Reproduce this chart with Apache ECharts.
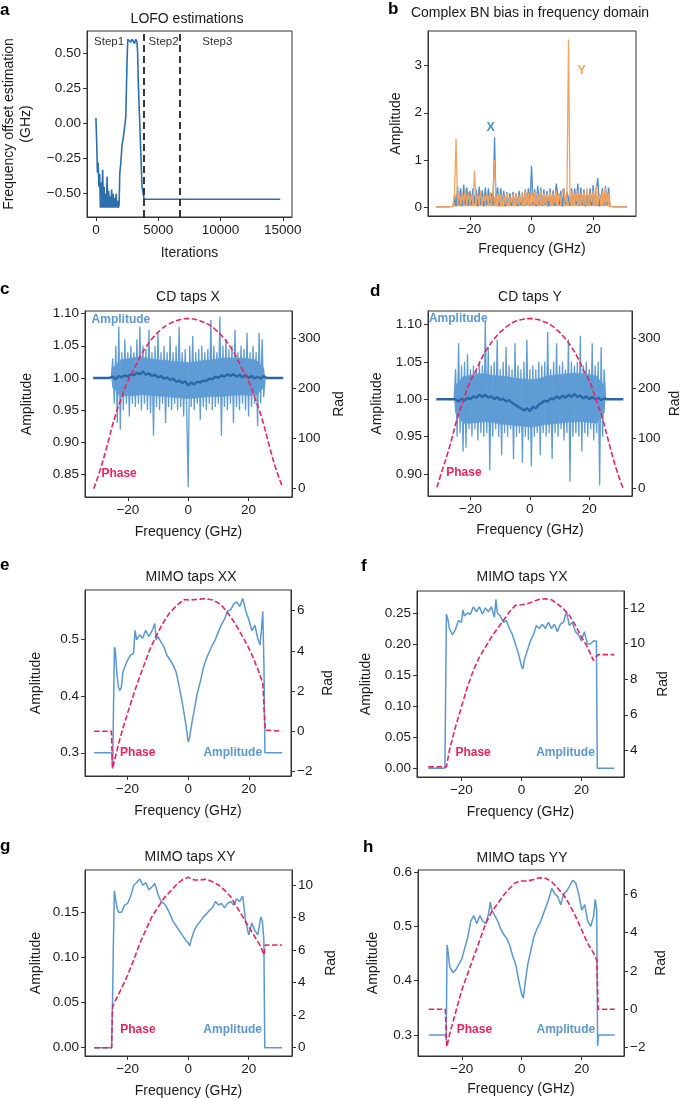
<!doctype html>
<html lang="en">
<head>
<meta charset="UTF-8" />
<title>Figure</title>
<script src="https://cdn.jsdelivr.net/npm/echarts/dist/echarts.min.js"></script>
<style>
  body { margin: 0; padding: 0; background: #fff; }
  #main { width: 685px; height: 1099px; }
</style>
</head>
<body>
<div id="main"></div>
<script>
// ---- panel a: LOFO estimations ----
const lofoIter = [0, 60, 120, 180, 240, 300, 360, 420, 480, 540, 600, 660, 720, 780, 840, 900, 960, 1020, 1080, 1140,
  1200, 1260, 1320, 1380, 1440, 1500, 1560, 1620, 1680, 1740, 1800, 1860, 1920, 2000, 2100, 2200, 2300, 2400, 2450, 2500,
  2560, 2700, 2800, 2900, 3000, 3100, 3200, 3300, 3350, 3400, 3500, 3600, 3700, 3800, 3870, 14800];
const lofoValue = [0.04, -0.12, -0.35, -0.28, -0.45, -0.36, -0.6, -0.42, -0.6, -0.33, -0.6, -0.45, -0.6, -0.5, -0.6, -0.38, -0.6, -0.48, -0.6, -0.52,
  -0.6, -0.47, -0.6, -0.5, -0.6, -0.53, -0.6, -0.5, -0.6, -0.55, -0.6, -0.58, -0.35, -0.28, -0.15, -0.1, -0.03, 0.05, 0.25, 0.45,
  0.6, 0.6, 0.58, 0.6, 0.6, 0.57, 0.6, 0.58, 0.5, 0.3, 0.05, -0.2, -0.45, -0.5, -0.54, -0.54];
const stepBounds = [3870, 6730];
const stepNames = ['Step1', 'Step2', 'Step3'];
const stepCenters = [1060, 5430, 9750];

// ---- shared frequency grid for the noisy traces (GHz) ----
const noiseFreq = [-31, -29, -27,
  -25.5, -25, -24.5, -24, -23.5, -23, -22.5, -22, -21.5, -21, -20.5, -20,
  -19.5, -19, -18.5, -18, -17.5, -17, -16.5, -16, -15.5, -15, -14.5, -14,
  -13.5, -13, -12.5, -12, -11.5, -11, -10.5, -10, -9.5, -9, -8.5, -8,
  -7.5, -7, -6.5, -6, -5.5, -5, -4.5, -4, -3.5, -3, -2.5, -2,
  -1.5, -1, -0.5, 0, 0.5, 1, 1.5, 2, 2.5, 3, 3.5, 4,
  4.5, 5, 5.5, 6, 6.5, 7, 7.5, 8, 8.5, 9, 9.5, 10,
  10.5, 11, 11.5, 12, 12.5, 13, 13.5, 14, 14.5, 15, 15.5, 16,
  16.5, 17, 17.5, 18, 18.5, 19, 19.5, 20, 20.5, 21, 21.5, 22,
  22.5, 23, 23.5, 24, 24.5, 25, 25.5,
  27, 29, 31];

// coarse grid for the dense core of the noisy traces
const bandFreq = [-25.4, -25, -22.5, -20, -17.5, -15, -12.5, -10, -7.5, -5, -2.5, 0,
  2.5, 5, 7.5, 10, 12.5, 15, 17.5, 20, 22.5, 25, 25.4];

// ---- panel b: complex BN bias ----
const biasX = [0.01, 0.012, 0.01,
  0.02, 0.2, 0.02, 0.45, 0.05, 0.4, 0.02, 0.48, 0.06, 0.42, 0.03, 0.35,
  0.05, 0.4, 0.08, 0.38, 0.02, 0.44, 0.06, 0.36, 0.02, 0.42, 0.05, 0.4,
  0.08, 0.3, 0.05, 1.48, 0.05, 0.42, 0.03, 0.4, 0.06, 0.35, 0.02, 0.32,
  0.05, 0.3, 0.03, 0.33, 0.06, 0.3, 0.02, 0.35, 0.05, 0.3, 0.04, 0.38,
  0.06, 0.4, 0.03, 0.88, 0.05, 0.38, 0.02, 0.45, 0.06, 0.42, 0.03, 0.38,
  0.05, 0.35, 0.02, 0.4, 0.06, 0.36, 0.03, 0.5, 0.48, 0.05, 0.35, 0.02,
  0.4, 0.06, 0.33, 0.3, 0.03, 0.4, 0.05, 0.4, 0.06, 0.5, 0.04, 0.42,
  0.05, 0.38, 0.02, 0.35, 0.06, 0.4, 0.03, 0.47, 0.05, 0.38, 0.62, 0.02,
  0.04, 0.4, 0.05, 0.45, 0.06, 0.42, 0.02,
  0.01, 0.012, 0.01];
const biasY = [0.01, 0.015, 0.01,
  0.02, 0.3, 1.45, 0.05, 0.35, 0.05, 0.3, 0.08, 0.38, 0.04, 0.32, 0.1,
  0.28, 0.05, 0.77, 0.06, 0.3, 0.08, 0.35, 0.04, 0.28, 0.1, 0.3, 0.05,
  0.32, 0.08, 0.3, 1.0, 0.05, 0.3, 0.1, 0.28, 0.03, 0.25, 0.08, 0.3,
  0.05, 0.22, 0.1, 0.28, 0.04, 0.3, 0.07, 0.25, 0.1, 0.33, 0.05, 0.35,
  0.08, 0.3, 0.04, 0.38, 0.1, 0.32, 0.06, 0.3, 0.1, 0.36, 0.05, 0.3,
  0.08, 0.28, 0.12, 0.33, 0.06, 0.3, 0.1, 0.35, 0.05, 0.3, 0.1, 0.38,
  0.32, 0.1, 0.3, 3.55, 0.08, 0.35, 0.05, 0.3, 0.12, 0.36, 0.06, 0.3,
  0.1, 0.33, 0.05, 0.4, 0.08, 0.3, 0.12, 0.35, 0.06, 0.45, 0.1, 0.3,
  0.05, 0.35, 0.08, 0.42, 0.1, 0.3, 0.02,
  0.01, 0.015, 0.01];
const biasYCoreLow = [0.01, 0.03, 0.03, 0.03, 0.03, 0.03, 0.03, 0.02, 0.03, 0.03, 0.03, 0.03,
  0.03, 0.03, 0.03, 0.03, 0.03, 0.03, 0.03, 0.03, 0.03, 0.03, 0.01];
const biasYCoreHigh = [0.01, 0.26, 0.25, 0.23, 0.22, 0.2, 0.22, 0.2, 0.16, 0.17, 0.2, 0.2,
  0.22, 0.22, 0.2, 0.22, 0.23, 0.22, 0.24, 0.25, 0.24, 0.25, 0.01];

// ---- panels c, d: CD taps amplitude (raw) ----
const cdRawX = [1.0, 1.0, 1.0,
  1.0, 1.03, 0.96, 1.05, 0.93, 1.08, 0.92, 1.04, 0.95, 1.06, 0.96, 1.04,
  0.94, 1.05, 0.96, 1.04, 0.955, 1.06, 0.96, 1.08, 0.95, 1.05, 0.96, 1.045,
  0.95, 1.075, 0.945, 1.04, 0.91, 1.05, 0.955, 1.07, 0.95, 1.04, 0.96, 1.05,
  0.93, 1.04, 0.955, 1.065, 0.95, 1.04, 0.96, 1.05, 0.95, 1.08, 0.955, 1.04,
  0.94, 1.045, 0.95, 0.83, 1.05, 0.955, 1.065, 0.95, 1.04, 0.96, 1.045, 0.935,
  1.05, 0.955, 1.04, 0.95, 1.045, 0.96, 1.09, 0.95, 1.05, 0.955, 1.04, 0.96,
  1.095, 0.91, 1.05, 0.955, 1.06, 0.95, 1.045, 0.96, 1.05, 0.93, 1.075, 0.955,
  1.04, 0.95, 1.05, 0.96, 1.045, 0.95, 1.07, 0.94, 1.04, 0.955, 1.05, 0.96,
  1.04, 0.925, 1.07, 0.96, 1.06, 0.97, 1.0,
  1.0, 1.0, 1.0];
const cdRawY = [1.0, 1.0, 1.0,
  1.0, 1.04, 0.95, 1.075, 0.955, 1.045, 0.93, 1.05, 0.935, 1.06, 0.96, 1.04,
  0.95, 1.045, 0.96, 1.04, 0.945, 1.05, 0.955, 1.045, 0.95, 1.105, 0.955, 1.07,
  0.905, 1.045, 0.95, 1.05, 0.96, 1.08, 0.95, 1.04, 0.925, 1.05, 0.955, 1.07,
  0.95, 1.045, 0.96, 1.04, 0.92, 1.075, 0.95, 1.045, 0.955, 1.04, 0.915, 1.05,
  0.95, 1.08, 0.945, 1.04, 0.91, 1.045, 0.95, 1.04, 0.955, 1.05, 0.925, 1.045,
  0.955, 1.05, 0.95, 1.09, 0.955, 1.04, 0.92, 1.05, 0.955, 1.075, 0.95, 1.045,
  0.96, 1.05, 0.945, 1.04, 0.955, 1.08, 0.89, 1.05, 0.95, 1.045, 0.955, 1.05,
  0.95, 1.085, 0.93, 1.045, 0.955, 1.05, 0.95, 1.04, 0.96, 1.075, 0.945, 1.045,
  0.955, 1.05, 0.885, 1.07, 0.95, 1.04, 1.0,
  1.0, 1.0, 1.0];
const cdCoreLowX = [1.0, 0.985, 0.972, 0.972, 0.973, 0.974, 0.973, 0.972, 0.971, 0.97, 0.969, 0.968,
  0.969, 0.97, 0.971, 0.971, 0.972, 0.973, 0.974, 0.973, 0.973, 0.985, 1.0];
const cdCoreHighX = [1.0, 1.015, 1.028, 1.03, 1.032, 1.032, 1.03, 1.028, 1.027, 1.026, 1.025, 1.024,
  1.025, 1.027, 1.028, 1.03, 1.031, 1.031, 1.031, 1.03, 1.028, 1.015, 1.0];
const cdCoreLowY = [1.0, 0.982, 0.968, 0.968, 0.969, 0.97, 0.969, 0.967, 0.966, 0.965, 0.964, 0.963,
  0.964, 0.966, 0.967, 0.968, 0.969, 0.97, 0.97, 0.969, 0.968, 0.982, 1.0];
const cdCoreHighY = [1.0, 1.018, 1.03, 1.032, 1.034, 1.034, 1.032, 1.031, 1.03, 1.028, 1.027, 1.026,
  1.027, 1.03, 1.032, 1.033, 1.034, 1.035, 1.034, 1.033, 1.031, 1.018, 1.0];

// ---- panels c, d: CD taps amplitude (averaged) ----
const avgFreq = [-31.5, -26,
  -25, -24, -23, -22, -21, -20, -19, -18, -17, -16,
  -15, -14, -13, -12, -11, -10, -9, -8, -7, -6,
  -5, -4, -3, -2, -1, 0, 1, 2, 3, 4,
  5, 6, 7, 8, 9, 10, 11, 12, 13, 14,
  15, 16, 17, 18, 19, 20, 21, 22, 23, 24,
  25, 26, 31.5];
const cdAvgX = [1.0, 1.0,
  1.002, 0.998, 1.003, 1.001, 1.004, 1.002, 1.006, 1.004, 1.008, 1.006,
  1.01, 1.005, 1.007, 1.003, 1.005, 1.001, 1.003, 0.999, 1.001, 0.997,
  0.999, 0.994, 0.996, 0.992, 0.995, 0.988, 0.993, 0.99, 0.994, 0.993,
  0.996, 0.995, 0.999, 0.998, 1.002, 1.0, 1.004, 1.002, 1.006, 1.003,
  1.006, 1.002, 1.005, 1.001, 1.004, 1.0, 1.003, 0.999, 1.002, 0.999,
  1.003, 1.0, 1.0];
const cdAvgY = [1.0, 1.0,
  1.0, 0.997, 1.001, 0.998, 1.002, 1.0, 1.004, 1.002, 1.006, 1.003,
  1.006, 1.002, 1.004, 1.0, 1.003, 0.999, 1.001, 0.997, 0.999, 0.995,
  0.993, 0.99, 0.988, 0.985, 0.988, 0.984, 0.99, 0.988, 0.993, 0.995,
  0.998, 0.997, 1.001, 1.0, 1.004, 1.001, 1.005, 1.002, 1.006, 1.003,
  1.007, 1.003, 1.005, 1.001, 1.004, 1.0, 1.003, 1.0, 1.002, 0.999,
  1.001, 1.0, 1.0];

// ---- panels c, d: CD taps phase (rad) ----
const cdPhaseX = [[-31.3, 0], [-29.2, 37], [-27, 83], [-24.3, 143], [-22, 183], [-20.4, 210], [-18, 238], [-16, 263],
  [-14, 283], [-11.5, 303], [-9, 318], [-7.1, 327], [-5, 333], [-2.7, 338], [0, 340], [2.7, 338], [5, 333], [7.1, 327],
  [9, 318], [11.5, 303], [14, 283], [16, 263], [18, 238], [20.4, 210], [22, 183], [24.3, 143], [27, 83], [29.2, 37], [31.3, 3]];
const cdPhaseY = [[-31.3, 2], [-30.2, 23], [-27, 84], [-24.3, 143], [-22, 183], [-20.4, 210], [-18, 238], [-16, 263],
  [-14, 283], [-11.5, 303], [-9, 318], [-7.1, 327], [-5, 334], [-2.7, 338], [0, 340], [2.7, 338], [5, 333], [7.1, 327],
  [9, 318], [11.5, 303], [14, 283], [16, 263], [18, 238], [20.4, 210], [22, 183], [24.3, 143], [27, 83], [29.2, 37], [31.4, 0]];

// ---- panels e-h: MIMO taps, [frequency, value] ----
const xxAmp = [[-31, 0.30], [-25.2, 0.30], [-24.9, 0.272], [-24.3, 0.486], [-24, 0.481], [-23.5, 0.44], [-23, 0.416],
  [-22.5, 0.41], [-22, 0.416], [-21.5, 0.443], [-21, 0.44], [-20, 0.463], [-19, 0.472], [-18, 0.475], [-17.5, 0.516],
  [-17, 0.499], [-16, 0.508], [-15, 0.502], [-14, 0.516], [-13, 0.505], [-12, 0.514], [-11, 0.528], [-10.5, 0.499],
  [-10, 0.505], [-9, 0.496], [-8, 0.487], [-7, 0.472], [-6, 0.464], [-5, 0.455], [-4, 0.443], [-3, 0.418], [-2, 0.39],
  [-1, 0.358], [-0.5, 0.34], [0, 0.319], [0.5, 0.328], [1, 0.345], [2, 0.375], [3, 0.405], [4, 0.425], [5, 0.45],
  [6, 0.466], [7, 0.478], [8, 0.49], [9, 0.5], [10, 0.514], [11, 0.526], [12, 0.536], [13, 0.55], [14, 0.552],
  [15, 0.562], [16, 0.566], [17, 0.558], [18, 0.572], [19, 0.55], [20, 0.535], [21, 0.515], [22, 0.525], [23, 0.5],
  [23.7, 0.49], [24.2, 0.52], [24.6, 0.549], [25, 0.45], [25.3, 0.30], [31, 0.30]];
const xxPhase = [[-31, 0], [-25.3, 0], [-24.9, -1.85], [-23.7, -1.1], [-22.6, -0.44], [-21, 0.4], [-19.3, 1.22],
  [-17.6, 2.0], [-16, 2.7], [-14.3, 3.4], [-12.7, 4.04], [-11, 4.6], [-9.5, 5.04], [-7.8, 5.5], [-6.2, 5.87],
  [-4.5, 6.15], [-2.9, 6.37], [-1.2, 6.56], [0.4, 6.53], [2.6, 6.56], [5.9, 6.6], [8.1, 6.53], [9.8, 6.4], [11.4, 6.2],
  [13, 5.9], [14.7, 5.54], [16.3, 5.15], [18, 4.7], [19.7, 4.22], [21.3, 3.71], [23.5, 2.88], [24.6, 2.38],
  [25.4, 0.05], [25.6, 0], [31, 0]];
const yxAmp = [[-31, 0], [-25.5, 0], [-25, 0.248], [-24.5, 0.24], [-24, 0.225], [-23, 0.215], [-22, 0.223], [-21, 0.238],
  [-20, 0.235], [-19.5, 0.255], [-19, 0.245], [-18, 0.25], [-17, 0.248], [-16, 0.26], [-15, 0.252], [-14, 0.26],
  [-13, 0.248], [-12, 0.258], [-11, 0.252], [-10, 0.26], [-9, 0.243], [-8.5, 0.272], [-8, 0.25], [-7, 0.245],
  [-6, 0.235], [-5, 0.238], [-4, 0.225], [-3, 0.215], [-2, 0.2], [-1, 0.185], [0, 0.165], [0.5, 0.16], [1, 0.175],
  [2, 0.19], [3, 0.205], [4, 0.215], [5, 0.23], [6, 0.225], [7, 0.232], [8, 0.225], [9, 0.235], [10, 0.225],
  [11, 0.232], [12, 0.22], [13, 0.232], [14, 0.235], [15, 0.252], [16, 0.23], [17, 0.235], [18, 0.22], [19, 0.215],
  [20, 0.205], [21, 0.22], [22, 0.2], [23, 0.2], [24, 0.205], [25, 0.205], [25.3, 0], [31, 0]];
const yxPhase = [[-31, 3.07], [-25, 3.07], [-24, 4.0], [-22, 5.3], [-20, 6.44], [-18, 7.56], [-16, 8.5], [-14, 9.25],
  [-12, 9.8], [-10, 10.37], [-8, 10.84], [-6, 11.3], [-4, 11.78], [-2, 12.15], [0, 12.19], [2, 12.24], [4, 12.37],
  [6, 12.49], [8, 12.52], [10, 12.47], [12, 12.24], [14, 11.96], [16, 11.59], [18, 11.03], [20, 10.37], [22, 9.81],
  [24, 9.06], [24.6, 8.97], [25.5, 9.38], [31, 9.38]];
const xyAmp = [[-31, 0], [-25.3, 0], [-25, 0.05], [-24.8, 0.1], [-24.4, 0.174], [-24, 0.165], [-23.5, 0.155],
  [-23, 0.15], [-22, 0.15], [-21, 0.158], [-20, 0.16], [-19, 0.168], [-18, 0.18], [-17, 0.183], [-16, 0.187],
  [-15, 0.18], [-14, 0.183], [-13, 0.175], [-12, 0.178], [-11, 0.182], [-10, 0.17], [-9, 0.162], [-8, 0.16],
  [-7, 0.155], [-6, 0.148], [-5, 0.14], [-4, 0.135], [-3, 0.13], [-2, 0.125], [-1, 0.12], [0, 0.116], [0.5, 0.113],
  [1, 0.12], [2, 0.13], [3, 0.136], [4, 0.14], [5, 0.145], [6, 0.148], [7, 0.152], [8, 0.155], [9, 0.162],
  [10, 0.158], [11, 0.16], [12, 0.155], [13, 0.16], [14, 0.162], [15, 0.158], [16, 0.165], [17, 0.162], [18, 0.168],
  [19, 0.14], [20, 0.125], [21, 0.138], [22, 0.13], [23, 0.125], [24, 0.145], [24.5, 0.14], [25, 0.12], [25.3, 0], [31, 0]];
const xyPhase = [[-31, 0], [-25.3, 0], [-25, 2.5], [-24, 2.93], [-22, 3.65], [-20, 4.47], [-18, 5.39], [-16, 6.41],
  [-14, 7.23], [-12, 8.05], [-10, 8.63], [-8, 9.18], [-6, 9.59], [-4, 10.0], [-2, 10.31], [0, 10.47], [2, 10.31],
  [4, 10.31], [6, 10.35], [8, 10.2], [10, 10.0], [12, 9.69], [14, 9.28], [16, 8.67], [18, 8.05], [20, 7.44],
  [22, 6.82], [24, 6.21], [25, 5.7], [25.5, 6.31], [31, 6.31]];
const yyAmp = [[-31, 0.3], [-25.5, 0.3], [-25.2, 0.29], [-24.9, 0.466], [-24.5, 0.45], [-24, 0.425], [-23, 0.415],
  [-22, 0.42], [-21, 0.43], [-20, 0.44], [-19, 0.46], [-18, 0.48], [-17, 0.51], [-16, 0.52], [-15, 0.505], [-14, 0.52],
  [-13, 0.51], [-12, 0.505], [-11, 0.525], [-10.5, 0.545], [-10, 0.53], [-9, 0.52], [-8, 0.51], [-7, 0.495],
  [-6, 0.485], [-5, 0.478], [-4, 0.465], [-3, 0.445], [-2, 0.43], [-1, 0.4], [0, 0.375], [0.5, 0.368], [1, 0.39],
  [2, 0.43], [3, 0.455], [4, 0.48], [5, 0.495], [6, 0.505], [7, 0.52], [8, 0.535], [9, 0.55], [10, 0.57], [11, 0.56],
  [12, 0.555], [13, 0.54], [14, 0.56], [15, 0.565], [16, 0.575], [17, 0.585], [18, 0.58], [19, 0.56], [20, 0.53],
  [21, 0.54], [22, 0.51], [23, 0.5], [24, 0.52], [24.5, 0.55], [25, 0.53], [25.3, 0.28], [25.6, 0.3], [31, 0.3]];
const yyPhase = [[-31, 0], [-25.5, 0], [-25, -1.95], [-24, -1.26], [-22, -0.13], [-20, 1.0], [-18, 1.87], [-16, 2.74],
  [-14, 3.6], [-12, 4.47], [-10, 5.08], [-8, 5.51], [-6, 5.95], [-4, 6.3], [-2, 6.6], [0, 6.68], [2, 6.68], [4, 6.76],
  [6, 6.85], [8, 6.82], [10, 6.64], [12, 6.3], [14, 5.95], [16, 5.43], [18, 4.82], [20, 4.13], [22, 3.43], [24, 2.91],
  [25, 2.56], [25.5, 0], [31, 0]];

// ---- styling ----
const FONT = '"Liberation Sans", Arial, Helvetica, sans-serif';
const INK = '#1a1a1a';
const FRAME = '#333';
const PINK = '#e8245d';
const AMP_BLUE = '#5b97d1';
const LOFO_BLUE = '#2c6fae';
const RAW_BLUE = '#5f9cd6';
const AVG_BLUE = '#2a67a4';
const BIAS_BLUE = '#4a8dcf';
const BIAS_ORANGE = '#f4a35e';

function zip(xs, ys) {
  return xs.map((x, i) => [x, ys[i]]);
}

function fmt(dec) {
  return (v) => {
    const s = Math.abs(v).toFixed(dec);
    return v < -1e-9 ? '\u2212' + s : s;
  };
}

const grids = [
  { left: 85, top: 31, width: 207, height: 186 },
  { left: 428, top: 31, width: 208, height: 185 },
  { left: 85, top: 311, width: 207, height: 186 },
  { left: 428, top: 311, width: 206, height: 185 },
  { left: 85, top: 590, width: 206, height: 186 },
  { left: 417, top: 591, width: 207, height: 186 },
  { left: 85, top: 870, width: 207, height: 186 },
  { left: 418, top: 870, width: 206, height: 186 },
].map((g) => Object.assign({ show: true, borderColor: FRAME, borderWidth: 1, backgroundColor: 'transparent', containLabel: false }, g));

function xAx(g, min, max, ticks, name, gap) {
  return {
    type: 'value', gridIndex: g, min: min, max: max,
    name: name, nameLocation: 'middle', nameGap: gap,
    nameTextStyle: { fontSize: 14, color: INK, fontFamily: FONT },
    axisLine: { show: true, onZero: false, lineStyle: { color: FRAME } },
    axisTick: { show: true, length: 4, lineStyle: { color: FRAME }, customValues: ticks },
    axisLabel: { fontSize: 13.5, color: INK, fontFamily: FONT, margin: 6, customValues: ticks, formatter: fmt(0) },
    splitLine: { show: false },
  };
}

function yAx(g, side, min, max, ticks, dec, name, gap) {
  return {
    type: 'value', gridIndex: g, position: side, min: min, max: max,
    name: name, nameLocation: 'middle', nameGap: gap, nameRotate: 90,
    nameTextStyle: { fontSize: 14, color: INK, fontFamily: FONT, lineHeight: 17 },
    axisLine: { show: true, onZero: false, lineStyle: { color: FRAME } },
    axisTick: { show: true, length: 4, lineStyle: { color: FRAME }, customValues: ticks },
    axisLabel: { fontSize: 13.5, color: INK, fontFamily: FONT, margin: 6, customValues: ticks, formatter: fmt(dec) },
    splitLine: { show: false },
  };
}

const FREQ = 'Frequency (GHz)';
const xAxes = [
  xAx(0, -715, 15740, [0, 5000, 10000, 15000], 'Iterations', 29),
  xAx(1, -33.6, 33.9, [-20, 0, 20], FREQ, 26),
  xAx(2, -34.2, 34.4, [-20, 0, 20], FREQ, 28),
  xAx(3, -34.3, 34.4, [-20, 0, 20], FREQ, 27),
  xAx(4, -34, 33.9, [-20, 0, 20], FREQ, 28),
  xAx(5, -34.8, 34.2, [-20, 0, 20], FREQ, 28),
  xAx(6, -34.1, 34.3, [-20, 0, 20], FREQ, 28),
  xAx(7, -34.6, 34.1, [-20, 0, 20], FREQ, 26),
];

const yAxes = [
  yAx(0, 'left', -0.666, 0.659, [-0.5, -0.25, 0, 0.25, 0.5], 2, 'Frequency offset estimation\n(GHz)', 52),
  yAx(1, 'left', -0.184, 3.73, [0, 1, 2, 3], 0, 'Amplitude', 23),
  yAx(2, 'left', 0.815, 1.104, [0.85, 0.9, 0.95, 1.0, 1.05, 1.1], 2, 'Amplitude', 49),
  yAx(3, 'left', 0.8706, 1.118, [0.9, 0.95, 1.0, 1.05, 1.1], 2, 'Amplitude', 42),
  yAx(4, 'left', 0.259, 0.587, [0.3, 0.4, 0.5], 1, 'Amplitude', 40),
  yAx(5, 'left', -0.014, 0.2854, [0, 0.05, 0.1, 0.15, 0.2, 0.25], 2, 'Amplitude', 42),
  yAx(6, 'left', -0.0092, 0.1969, [0, 0.05, 0.1, 0.15], 2, 'Amplitude', 40),
  yAx(7, 'left', 0.2613, 0.604, [0.3, 0.4, 0.5, 0.6], 1, 'Amplitude', 36),
  yAx(2, 'right', -16.8, 355.2, [0, 100, 200, 300], 0, 'Rad', 39),
  yAx(3, 'right', -15.4, 355.2, [0, 100, 200, 300], 0, 'Rad', 35),
  yAx(4, 'right', -2.23, 7.03, [-2, 0, 2, 4, 6], 0, 'Rad', 29),
  yAx(5, 'right', 2.5, 12.96, [4, 6, 8, 10, 12], 0, 'Rad', 31),
  yAx(6, 'right', -0.51, 10.92, [0, 2, 4, 6, 8, 10], 0, 'Rad', 31),
  yAx(7, 'right', -2.43, 7.25, [-2, 0, 2, 4, 6], 0, 'Rad', 29),
];

function textMark(coord, text, color, size, weight) {
  return {
    coord: coord, symbol: 'circle', symbolSize: 1,
    itemStyle: { color: 'rgba(0,0,0,0)' },
    label: { show: true, position: 'inside', formatter: text, color: color, fontSize: size, fontWeight: weight, fontFamily: FONT },
  };
}

function marks(items) {
  return { silent: true, animation: false, data: items };
}

function line(xi, yi, data, color, width, extra) {
  return Object.assign({
    type: 'line', xAxisIndex: xi, yAxisIndex: yi, data: data,
    symbol: 'none', showSymbol: false, animation: false, silent: true,
    lineStyle: { color: color, width: width },
  }, extra || {});
}

// filled band between a low and a high envelope, one quad per grid step
function band(xi, yi, low, high, color) {
  const quads = bandFreq.slice(0, -1).map((f, i) => [f, low[i], high[i], bandFreq[i + 1], low[i + 1], high[i + 1]]);
  return {
    type: 'custom', xAxisIndex: xi, yAxisIndex: yi, data: quads, silent: true, animation: false,
    encode: { x: [0, 3], y: [1, 2, 4, 5] },
    renderItem: (params, api) => {
      const pts = [
        api.coord([api.value(0), api.value(1)]),
        api.coord([api.value(3), api.value(4)]),
        api.coord([api.value(3), api.value(5)]),
        api.coord([api.value(0), api.value(2)]),
      ];
      return { type: 'polygon', shape: { points: pts }, style: { fill: color, stroke: color, lineWidth: 0.6 } };
    },
  };
}

function phase(xi, yi, data, smooth) {
  return line(xi, yi, data, PINK, 1.6, { smooth: smooth, z: 4, lineStyle: { color: PINK, width: 1.6, type: [5.5, 2.5] } });
}

function mimoLabels(phaseAt, ampAt) {
  return marks([
    textMark(phaseAt, 'Phase', PINK, 12, 'bold'),
    textMark(ampAt, 'Amplitude', AMP_BLUE, 12, 'bold'),
  ]);
}

const series = [
  // a
  line(0, 0, zip(lofoIter, lofoValue), LOFO_BLUE, 1.6, {
    markLine: {
      silent: true, animation: false, symbol: ['none', 'none'], label: { show: false },
      lineStyle: { color: '#222', type: [7, 4], width: 1.8 },
      data: stepBounds.map((v) => ({ xAxis: v })),
    },
    markPoint: marks(stepNames.map((s, i) => textMark([stepCenters[i], 0.585], s, '#333', 11.5, 'normal'))),
  }),
  // b
  line(1, 1, zip(noiseFreq, biasX), BIAS_BLUE, 1.3),
  band(1, 1, biasYCoreLow, biasYCoreHigh, BIAS_ORANGE),
  line(1, 1, zip(noiseFreq, biasY), BIAS_ORANGE, 1.3, {
    markPoint: marks([
      textMark([-13.3, 1.68], 'X', BIAS_BLUE, 12.5, 'bold'),
      textMark([16.3, 2.9], 'Y', BIAS_ORANGE, 12.5, 'bold'),
    ]),
  }),
  // c
  band(2, 2, cdCoreLowX, cdCoreHighX, RAW_BLUE),
  line(2, 2, zip(noiseFreq, cdRawX), RAW_BLUE, 1.3),
  line(2, 2, zip(avgFreq, cdAvgX), AVG_BLUE, 2.4),
  phase(2, 8, cdPhaseX, true),
  line(2, 2, [], AVG_BLUE, 1, {
    markPoint: marks([
      textMark([-22.3, 1.0907], 'Amplitude', AMP_BLUE, 12, 'bold'),
      textMark([-22.9, 0.8516], 'Phase', PINK, 12, 'bold'),
    ]),
  }),
  // d
  band(3, 3, cdCoreLowY, cdCoreHighY, RAW_BLUE),
  line(3, 3, zip(noiseFreq, cdRawY), RAW_BLUE, 1.3),
  line(3, 3, zip(avgFreq, cdAvgY), AVG_BLUE, 2.4),
  phase(3, 9, cdPhaseY, true),
  line(3, 3, [], AVG_BLUE, 1, {
    markPoint: marks([
      textMark([-24.1, 1.108], 'Amplitude', AMP_BLUE, 12, 'bold'),
      textMark([-22.2, 0.902], 'Phase', PINK, 12, 'bold'),
    ]),
  }),
  // e
  line(4, 4, xxAmp, AMP_BLUE, 1.5, { markPoint: mimoLabels([-16.6, 0.3], [14.7, 0.3]) }),
  phase(4, 10, xxPhase, false),
  // f
  line(5, 5, yxAmp, AMP_BLUE, 1.5, { markPoint: mimoLabels([-16.1, 0.0247], [14.7, 0.0247]) }),
  phase(5, 11, yxPhase, false),
  // g
  line(6, 6, xyAmp, AMP_BLUE, 1.5, { markPoint: mimoLabels([-16.6, 0.0196], [14.7, 0.0196]) }),
  phase(6, 12, xyPhase, false),
  // h
  line(7, 7, yyAmp, AMP_BLUE, 1.5, { markPoint: mimoLabels([-15.8, 0.309], [14.7, 0.309]) }),
  phase(7, 13, yyPhase, false),
];

// titles and panel letters
const titles = [
  ['LOFO estimations', 187, 19],
  ['Complex BN bias in frequency domain', 530, 13],
  ['CD taps X', 188, 297],
  ['CD taps Y', 530, 297],
  ['MIMO taps XX', 191, 577],
  ['MIMO taps YX', 522, 577],
  ['MIMO taps XY', 190, 857],
  ['MIMO taps YY', 522, 858],
];
const letters = [
  ['a', 0, 10], ['b', 388, 9], ['c', 0, 289], ['d', 370, 291],
  ['e', 0, 565], ['f', 361, 566], ['g', 0, 846], ['h', 363, 847],
];

const graphic = titles.map((t) => ({
  type: 'text', x: t[1], y: t[2], silent: true,
  style: { text: t[0], fill: INK, fontSize: 14, fontFamily: FONT, align: 'center', verticalAlign: 'middle' },
})).concat(letters.map((l) => ({
  type: 'text', x: l[1], y: l[2], silent: true,
  style: { text: l[0], fill: '#000', fontSize: 17, fontWeight: 'bold', fontFamily: FONT, align: 'left', verticalAlign: 'middle' },
})));

const chart = echarts.init(document.getElementById('main'), null, { renderer: 'canvas' });
chart.setOption({
  animation: false,
  backgroundColor: '#fff',
  textStyle: { fontFamily: FONT },
  grid: grids,
  xAxis: xAxes,
  yAxis: yAxes,
  series: series,
  graphic: graphic,
});
</script>
</body>
</html>
